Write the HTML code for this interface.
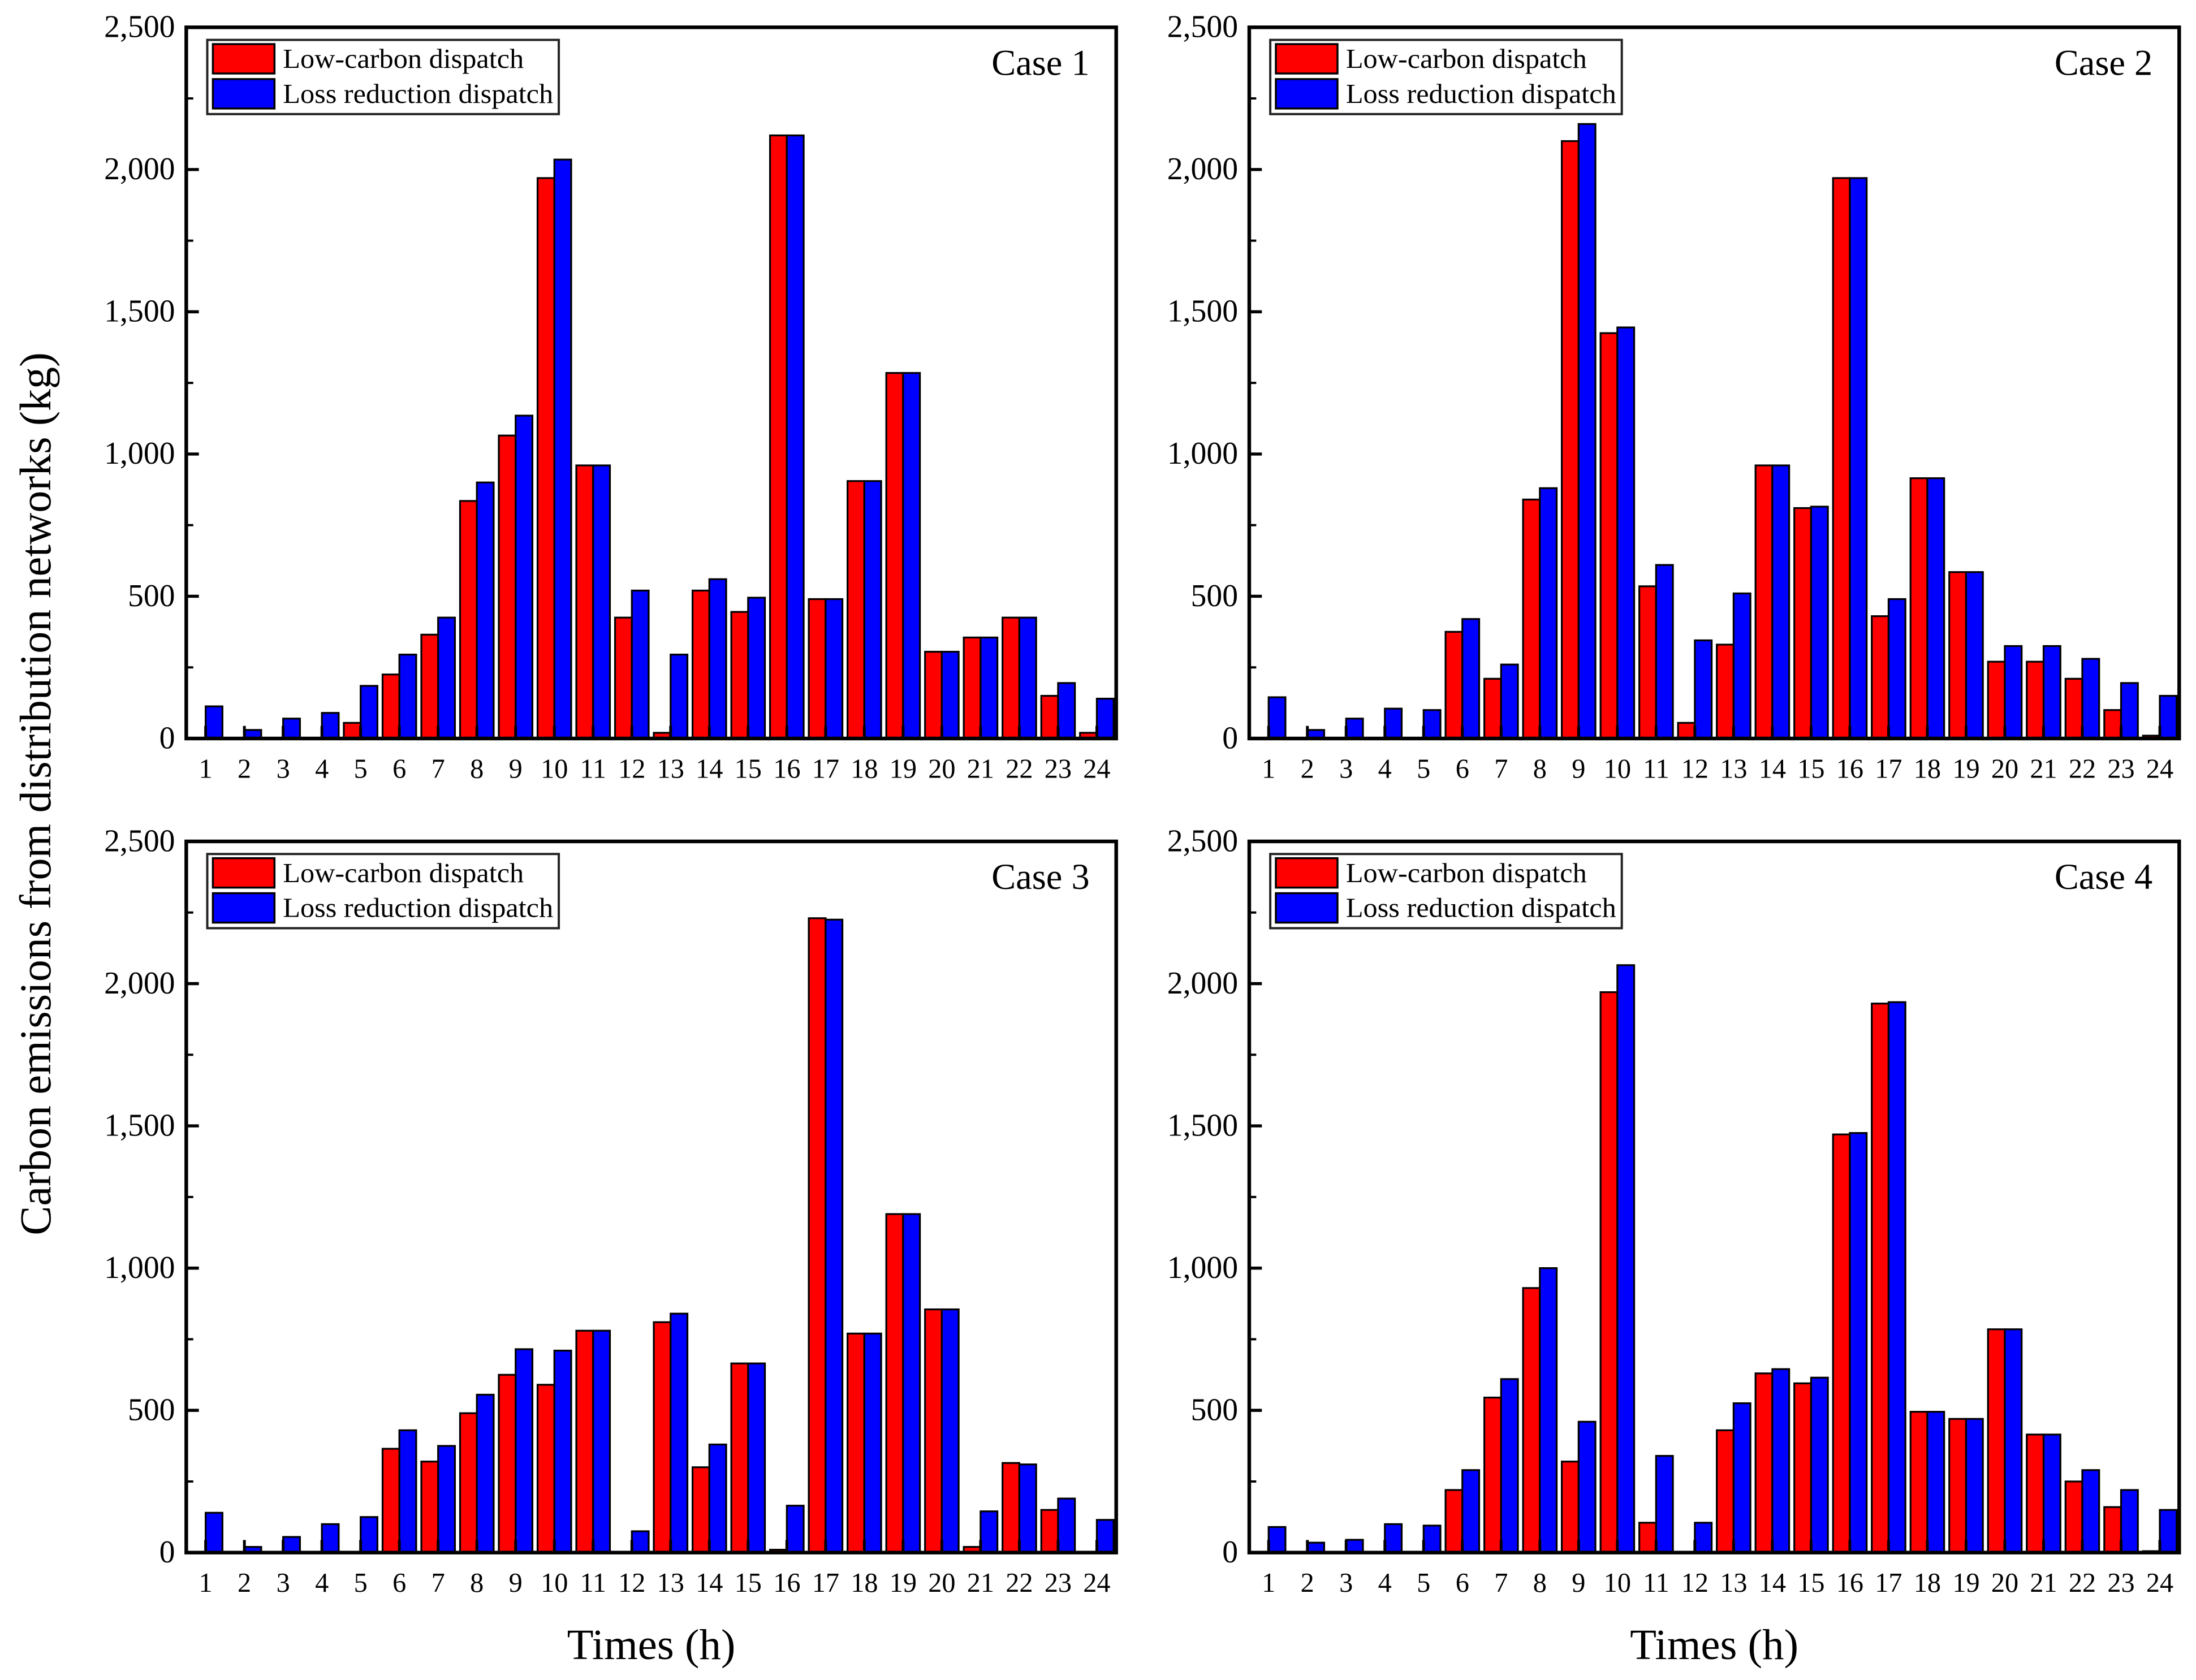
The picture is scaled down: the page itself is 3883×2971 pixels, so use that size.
<!DOCTYPE html>
<html><head><meta charset="utf-8">
<style>
html,body{margin:0;padding:0;background:#fff;}
svg{display:block;font-family:"Liberation Serif","Times New Roman",serif;}
</style></head>
<body>
<svg id="chart" width="3883" height="2971" viewBox="0 0 1568 1200" preserveAspectRatio="none" xmlns="http://www.w3.org/2000/svg">
<rect width="1568" height="1200" fill="#fff"/>
<text x="0" y="0" transform="translate(36,567) rotate(-90)" text-anchor="middle" font-size="31.5">Carbon emissions from distribution networks (kg)</text>
</svg>
<script>
const hours = [1,2,3,4,5,6,7,8,9,10,11,12,13,14,15,16,17,18,19,20,21,22,23,24];
const yTicks = [0,500,1000,1500,2000,2500];
const yTickLabels = ["0","500","1,000","1,500","2,000","2,500"];
const caseNames = ["Case 1","Case 2","Case 3","Case 4"];
const seriesNames = ["Low-carbon dispatch","Loss reduction dispatch"];
const case1Low  = [0,0,0,0,55,225,365,835,1065,1970,960,425,20,520,445,2120,490,905,1285,305,355,425,150,20];
const case1Loss = [113,30,70,90,185,295,425,900,1135,2035,960,520,295,560,495,2120,490,905,1285,305,355,425,195,140];
const case2Low  = [0,0,0,0,0,375,210,840,2100,1425,535,55,330,960,810,1970,430,915,585,270,270,210,100,10];
const case2Loss = [145,30,70,105,100,420,260,880,2160,1445,610,345,510,960,815,1970,490,915,585,325,325,280,195,150];
const case3Low  = [0,0,0,0,0,365,320,490,625,590,780,0,810,300,665,10,2230,770,1190,855,20,315,150,0];
const case3Loss = [140,20,55,100,125,430,375,555,715,710,780,75,840,380,665,165,2225,770,1190,855,145,310,190,115];
const case4Low  = [0,0,0,0,0,220,545,930,320,1970,105,0,430,630,595,1470,1930,495,470,785,415,250,160,5];
const case4Loss = [90,35,45,100,95,290,610,1000,460,2065,340,105,525,645,615,1475,1935,495,470,785,415,290,220,150];
const lowSeries = [case1Low,case2Low,case3Low,case4Low];
const lossSeries = [case1Loss,case2Loss,case3Loss,case4Loss];

const NS = "http://www.w3.org/2000/svg";
const svg = document.getElementById('chart');
function mk(tag, attrs, parent){
  const e = document.createElementNS(NS, tag);
  for (const k in attrs) e.setAttribute(k, attrs[k]);
  (parent||svg).appendChild(e);
  return e;
}
const panels = [
  {x:133, y:19.5},{x:892, y:19.5},{x:133, y:601},{x:892, y:601}
];
const W = 664, H = 508;
const YMAX = 2500;

panels.forEach((p, pi) => {
  const g = mk('g', {});
  
  
  const xScale = h => p.x + (h - 0.5) * (W / 24);
  const yScale = v => p.y + H - (v / YMAX) * H;
  const bw = 12;
  hours.forEach((h, i) => {
    const cx = xScale(h);
    const lv = lowSeries[pi][i], sv = lossSeries[pi][i];
    const r = mk('rect', {x: cx - bw, y: yScale(lv), width: bw, height: Math.max(0, yScale(0) - yScale(lv)), fill:'#ff0000', stroke:'#000', 'stroke-width':1.3}, g);
    
    
    const b = mk('rect', {x: cx, y: yScale(sv), width: bw, height: Math.max(0, yScale(0) - yScale(sv)), fill:'#0000ff', stroke:'#000', 'stroke-width':1.3}, g);
    
    
    mk('line', {x1:cx, x2:cx, y1:yScale(0), y2:yScale(0)-9, stroke:'#000', 'stroke-width':2}, g);
    const t = mk('text', {x:cx, y:p.y + H + 28, 'text-anchor':'middle', 'font-size':19.5}, g);
    
    
    t.textContent = String(h);
  });
  yTicks.forEach((v, i) => {
    const y = yScale(v);
    mk('line', {x1:p.x, x2:p.x+9, y1:y, y2:y, stroke:'#000', 'stroke-width':2.2}, g);
    if (i < yTicks.length - 1) {
      const ym = yScale(v + 250);
      mk('line', {x1:p.x, x2:p.x+5, y1:ym, y2:ym, stroke:'#000', 'stroke-width':1.6}, g);
    }
    const t = mk('text', {x:p.x - 8, y:y + 7, 'text-anchor':'end', 'font-size':22.5}, g);
    
    
    t.textContent = yTickLabels[i];
  });
  const f = mk('rect', {x:p.x, y:p.y, width:W, height:H, fill:'none', stroke:'#000', 'stroke-width':2.6}, g);
  
  
  const lg = mk('g', {}, g);
  
  
  mk('rect', {x:p.x+15, y:p.y+9, width:251, height:53, fill:'#fff', stroke:'#222', 'stroke-width':1.6}, lg);
  const colors = ['#ff0000','#0000ff'];
  seriesNames.forEach((n, k) => {
    const e = mk('g', {}, lg);
    
    
    mk('rect', {x:p.x+19, y:p.y+12+k*25, width:44, height:21, fill:colors[k], stroke:'#000', 'stroke-width':1.4}, e);
    const t = mk('text', {x:p.x+69, y:p.y+29+k*25, 'font-size':19.5, textLength:193, lengthAdjust:'spacingAndGlyphs'}, e);
    if (k===0) t.setAttribute('textLength', 172);
    t.textContent = n;
  });
  const c = mk('text', {x:p.x + W - 19, y:p.y + 34, 'text-anchor':'end', 'font-size':26}, g);
  
  
  c.textContent = caseNames[pi];
  if (pi >= 2) {
    const xt = mk('text', {x:p.x + W/2, y:1185, 'text-anchor':'middle', 'font-size':31}, g);
    
    
    xt.textContent = 'Times (h)';
  }
});
</script>
</body></html>
